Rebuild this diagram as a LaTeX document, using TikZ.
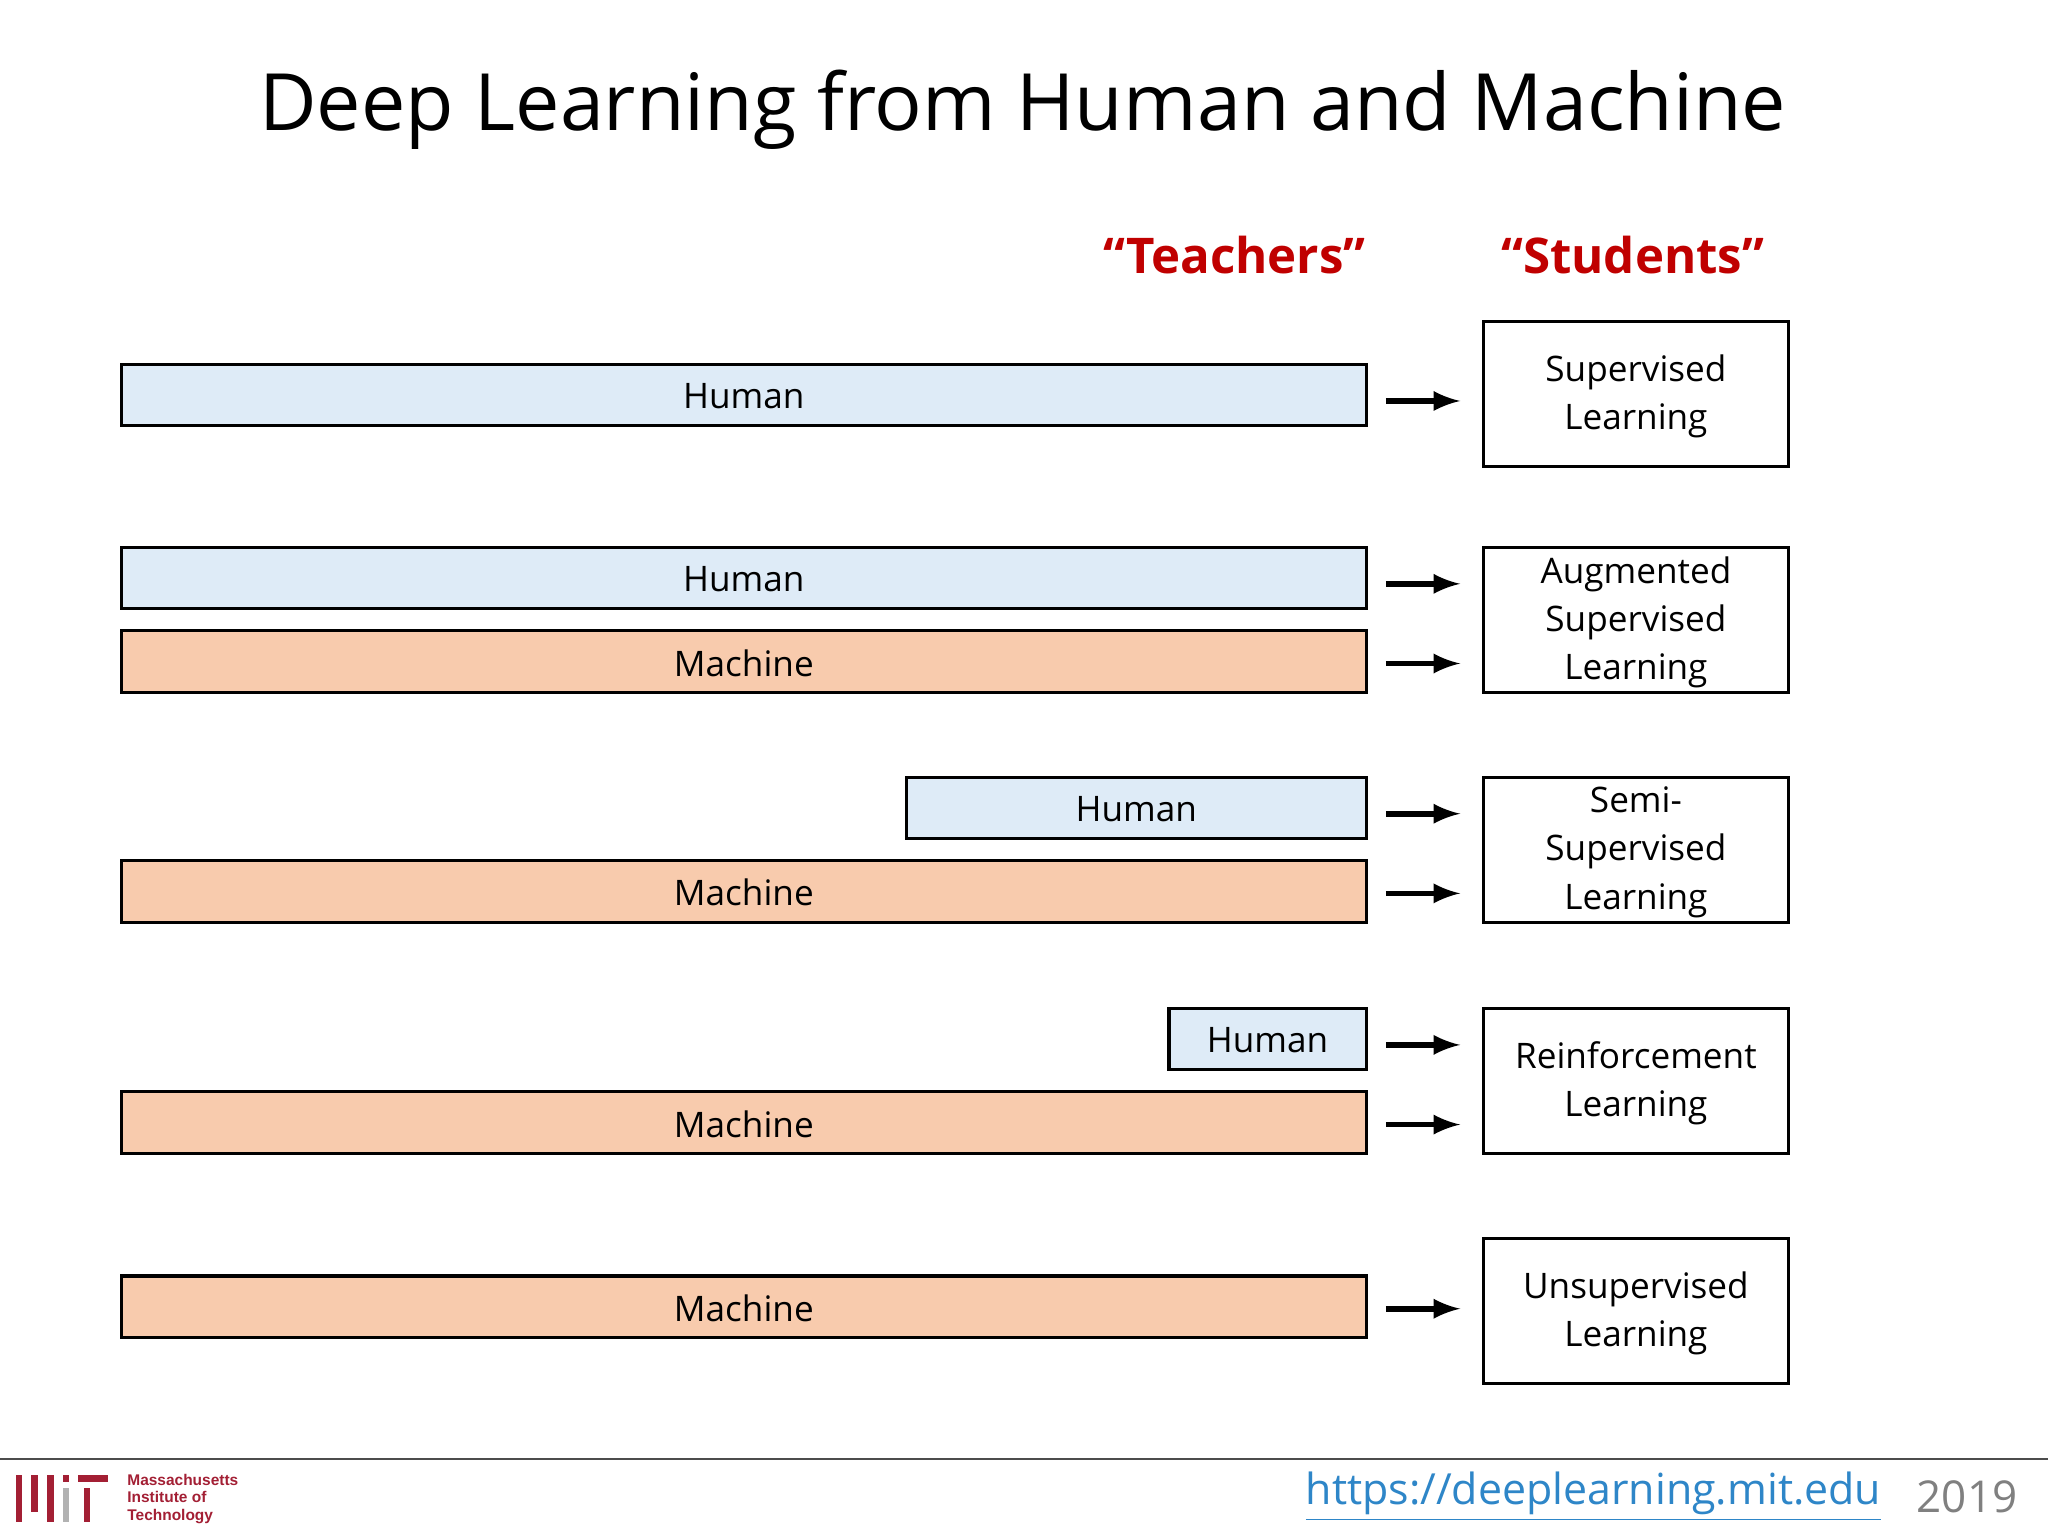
\documentclass[tikz,border=0pt]{standalone}
\usepackage{fontspec}
\setmainfont{Open Sans}
\newfontfamily\arialf{Liberation Sans}
\definecolor{hblue}{HTML}{DEEBF7}
\definecolor{morange}{HTML}{F8CBAD}
\definecolor{tred}{HTML}{C00000}
\definecolor{mitred}{HTML}{A31F34}
\definecolor{urlblue}{HTML}{2E86C8}
\begin{document}
\begin{tikzpicture}[x=0.01306cm,y=-0.01306cm,
  hum/.style={draw=black,line width=0.9pt,fill=hblue},
  mach/.style={draw=black,line width=0.9pt,fill=morange},
  stud/.style={draw=black,line width=0.9pt,fill=white},
  lbl/.style={font=\fontsize{10}{12}\selectfont},
  arr/.style={-latex,line width=1.6pt}]
\fill[white] (0,0) rectangle (1568,1176);
\useasboundingbox (0,0) rectangle (1568,1176);
\node[font=\fontsize{22.5}{26}\selectfont] (title) at (783,84) {Deep Learning from Human and Machine};
\node[font=\bfseries\fontsize{14}{17}\selectfont,text=tred] (teach) at (945,195) {“Teachers”};
\node[font=\bfseries\fontsize{14}{17}\selectfont,text=tred] (stud) at (1250,195) {“Students”};
% bars
\draw[hum] (93,279) rectangle (1046,326); \node[lbl] (h1) at (569.5,303.5) {Human};
\draw[hum] (93,419) rectangle (1046,466); \node[lbl] (h2) at (569.5,443.5) {Human};
\draw[mach] (93,483) rectangle (1046,530); \node[lbl] (m2) at (569.5,507.5) {Machine};
\draw[hum] (694,595) rectangle (1046,642); \node[lbl] (h3) at (870,619.5) {Human};
\draw[mach] (93,659) rectangle (1046,706); \node[lbl] (m3) at (569.5,683.5) {Machine};
\draw[hum] (895,772) rectangle (1046,819); \node[lbl] (h4) at (970.5,796.5) {Human};
\draw[mach] (93,836) rectangle (1046,883); \node[lbl] (m4) at (569.5,860.5) {Machine};
\draw[mach] (93,977) rectangle (1046,1024); \node[lbl] (m5) at (569.5,1001.5) {Machine};
% arrows
\foreach \y/\n in {307/a1,447/a2,508/a3,623/a4,684/a5,800/a6,861/a7,1002/a8}{
  \coordinate (\n s) at (1061,\y); \coordinate (\n e) at (1118,\y);
  \draw[arr] (\n s) -- (\n e);}
% students
\foreach \t/\b/\txt/\n in {246/357/{Supervised\\Learning}/s1,419/530/{Augmented\\Supervised\\Learning}/s2,595/706/{Semi-\\Supervised\\Learning}/s3,772/883/{Reinforcement\\Learning}/s4,948/1059/{Unsupervised\\Learning}/s5}{
  \draw[stud] (1136,\t) rectangle (1369,\b);
  \node[lbl,align=center,font=\fontsize{10}{13.7}\selectfont] (\n) at (1252.5,{(\t+\b)/2+2}) {\txt};}
% footer
\draw[line width=0.6pt,black!70] (0,1117) -- (1568,1117);
\fill[mitred] (12,1129) rectangle (17,1165);
\fill[mitred] (24,1129) rectangle (29,1158);
\fill[mitred] (36,1129) rectangle (41,1165);
\fill[gray!60] (48,1139) rectangle (53,1165);
\fill[mitred] (48,1129) rectangle (53,1135);
\fill[mitred] (60,1129) rectangle (83,1135);
\fill[mitred] (64,1139) rectangle (69,1165);
\node[anchor=north west,align=left,text=mitred,font=\arialf\bfseries\fontsize{4.4}{5}\selectfont,inner sep=0pt] (mit) at (97,1128) {Massachusetts\\Institute of\\Technology};
\node[text=urlblue,font=\fontsize{12.2}{15}\selectfont] (url) at (1220,1146) {\underline{https://deeplearning.mit.edu}};
\node[text=gray,font=\fontsize{12.5}{15}\selectfont] (yr) at (1506,1146) {2019};
\end{tikzpicture}
\end{document}
